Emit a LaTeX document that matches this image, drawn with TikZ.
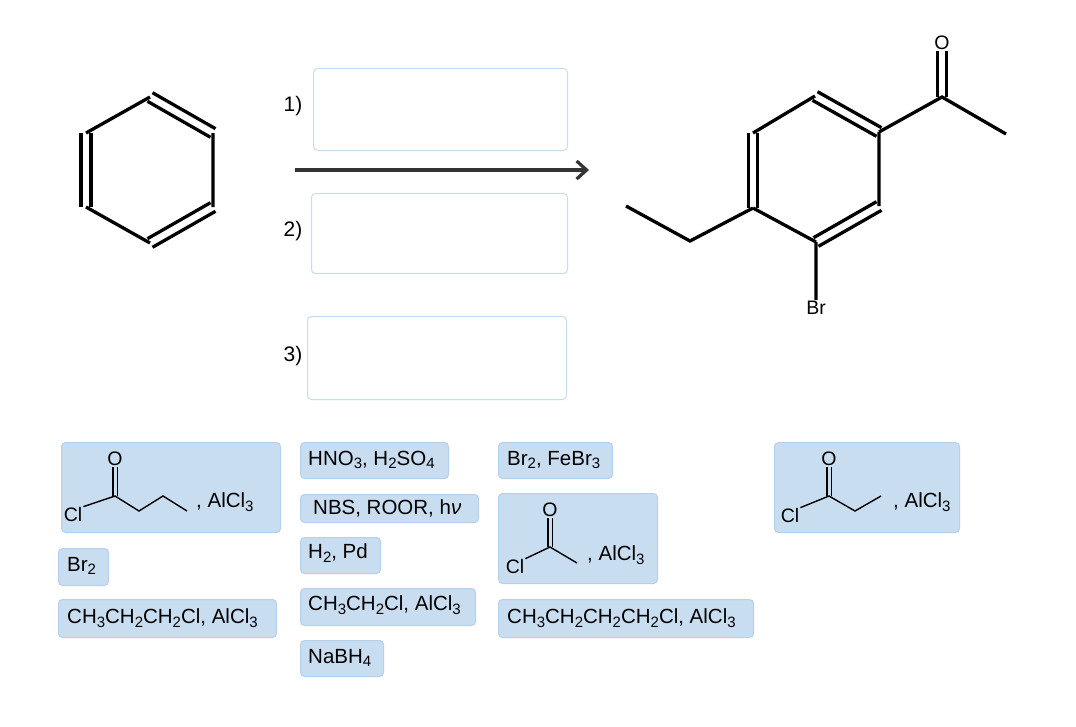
\documentclass[tikz,border=0pt]{standalone}
\usepackage{fontspec}
\setmainfont{Liberation Sans}
\usetikzlibrary{arrows.meta}
\newcommand\sbs[1]{\raisebox{-0.35ex}{\fontsize{15}{16}\selectfont #1}}
\begin{document}
\begin{tikzpicture}[x=1pt,y=-1pt,
  bond/.style={line width=3.3pt,line cap=butt},
  sbond/.style={line width=1.4pt},
  tile/.style={draw=tileb,fill=tilef,rounded corners=4pt,line width=1pt,anchor=north west,inner sep=0pt},
  ansbox/.style={draw=ansb,rounded corners=4pt,line width=1pt,anchor=north west,inner sep=0pt},
  ttext/.style={font=\fontsize{20.5}{24}\selectfont,anchor=west,inner sep=0pt},
  atom/.style={font=\fontsize{19.5}{21}\selectfont,inner sep=1pt},
  lab/.style={font=\fontsize{21}{24}\selectfont,inner sep=0pt}]
\definecolor{tilef}{HTML}{C9DDF1}
\definecolor{tileb}{HTML}{B5D0EA}
\definecolor{ansb}{HTML}{C7DCF0}
\definecolor{arr}{HTML}{333333}
\useasboundingbox (0,0) rectangle (1076,726);
% benzene
\coordinate (b1) at (150,97);\coordinate (b2) at (213,133);\coordinate (b3) at (213,207);
\coordinate (b4) at (150,243);\coordinate (b5) at (86,207);\coordinate (b6) at (86,133);
\draw[bond] (b2)--(b3) (b4)--(b5) (b6)--(b1);
\draw[bond] ([shift={(2.5,-4.3)}]b1)--([shift={(2.5,-4.3)}]b2) ([shift={(-2.5,4.3)}]b1)--([shift={(-2.5,4.3)}]b2);
\draw[bond] ([shift={(2.5,4.3)}]b3)--([shift={(2.5,4.3)}]b4) ([shift={(-2.5,-4.3)}]b3)--([shift={(-2.5,-4.3)}]b4);
\draw[bond] ([xshift=-5]b5)--([xshift=-5]b6) ([xshift=5]b5)--([xshift=5]b6);
% arrow and answer boxes
\coordinate (as) at (295,170);\coordinate (ae) at (589,170);
\draw[arr,line width=3.2pt,-{Straight Barb[length=10pt,width=18pt]}] (as)--(ae);
\node[ansbox,minimum width=254,minimum height=82] (box1) at (313,68) {};
\node[ansbox,minimum width=256,minimum height=80] (box2) at (311,193) {};
\node[ansbox,minimum width=259,minimum height=83] (box3) at (307,316) {};
\node[lab] (l1) at (293,106) {1)};
\node[lab] (l2) at (293,231) {2)};
\node[lab] (l3) at (293,356) {3)};
% product
\coordinate (c1) at (879,132);\coordinate (c2) at (815,96);\coordinate (c3) at (753,133);
\coordinate (c4) at (753,208);\coordinate (c5) at (816,242);\coordinate (c6) at (879,206);
\coordinate (ca) at (942,97);\coordinate (me) at (1006,134);
\coordinate (e1) at (690,241);\coordinate (e2) at (626,206);
\node[atom,font=\fontsize{19.5}{21}\selectfont] (O) at (942,43) {O};
\node[atom,font=\fontsize{19.5}{21}\selectfont] (Br) at (816,308) {Br};
\draw[bond] (c2)--(c3) (c4)--(c5) (c6)--(c1) (c1)--(ca)--(me) (c4)--(e1)--(e2) (c5)--(Br.north);
\draw[bond] ([xshift=-4.5]ca)--([xshift=-4.5]O.south) ([xshift=4.5]ca)--([xshift=4.5]O.south);
\draw[bond] ([shift={(2.5,-4.3)}]c2)--([shift={(2.5,-4.3)}]c1) ([shift={(-2.5,4.3)}]c2)--([shift={(-2.5,4.3)}]c1);
\draw[bond] ([xshift=-4.5]c3)--([xshift=-4.5]c4) ([xshift=4.5]c3)--([xshift=4.5]c4);
\draw[bond] ([shift={(-2.5,-4.3)}]c5)--([shift={(-2.5,-4.3)}]c6) ([shift={(2.5,4.3)}]c5)--([shift={(2.5,4.3)}]c6);
% tiles
\node[tile,minimum width=219,minimum height=90] (tA) at (61,442) {};
\node[atom] (oA) at (115,459) {O};
\node[atom] (clA) at (73,515) {Cl};
\coordinate (cA) at (115,496);\coordinate (cA2) at (139,511);\coordinate (cA3) at (163,496);\coordinate (cA4) at (187,511);
\draw[sbond] (clA.north east)--(cA)--(cA2)--(cA3)--(cA4);
\draw[sbond] ([xshift=-2.2]cA)--([xshift=-2.2]oA.south) ([xshift=2.2]cA)--([xshift=2.2]oA.south);
\node[ttext] (tAt) at (196,502) {, AlCl\sbs{3}};
\node[tile,minimum width=50,minimum height=37] (tB) at (58,548) {};
\node[ttext] at (67,566) {Br\sbs{2}};
\node[tile,minimum width=218,minimum height=38] (tC) at (58,599) {};
\node[ttext] at (67,618) {CH\sbs{3}CH\sbs{2}CH\sbs{2}Cl, AlCl\sbs{3}};
\node[tile,minimum width=148,minimum height=36] (tD) at (300,442) {};
\node[ttext] at (308,460) {HNO\sbs{3}, H\sbs{2}SO\sbs{4}};
\node[tile,minimum width=178,minimum height=28] (tE) at (300,494) {};
\node[ttext] at (313,508) {NBS, ROOR, h\textit{ν}};
\node[tile,minimum width=80,minimum height=36] (tF) at (300,537) {};
\node[ttext] at (308,553) {H\sbs{2}, Pd};
\node[tile,minimum width=175,minimum height=37] (tG) at (300,588) {};
\node[ttext] at (308,605) {CH\sbs{3}CH\sbs{2}Cl, AlCl\sbs{3}};
\node[tile,minimum width=83,minimum height=36] (tH) at (300,640) {};
\node[ttext] at (308,658) {NaBH\sbs{4}};
\node[tile,minimum width=114,minimum height=36] (tI) at (498,442) {};
\node[ttext] at (507,460) {Br\sbs{2}, FeBr\sbs{3}};
\node[tile,minimum width=159,minimum height=90] (tJ) at (498,493) {};
\node[atom] (oJb) at (550,510) {O};
\node[atom] (clJb) at (515,567) {Cl};
\coordinate (cJb) at (550,547);\coordinate (mJb) at (577,563);
\draw[sbond] (clJb.north east)--(cJb)--(mJb);
\draw[sbond] ([xshift=-2.2]cJb)--([xshift=-2.2]oJb.south) ([xshift=2.2]cJb)--([xshift=2.2]oJb.south);
\node[ttext] at (587,555) {, AlCl\sbs{3}};
\node[tile,minimum width=255,minimum height=38] (tK) at (498,599) {};
\node[ttext] at (507,618) {CH\sbs{3}CH\sbs{2}CH\sbs{2}CH\sbs{2}Cl, AlCl\sbs{3}};
\node[tile,minimum width=185,minimum height=90] (tL) at (774,442) {};
\node[atom] (oL) at (829,459) {O};
\node[atom] (clL) at (790,516) {Cl};
\coordinate (cL) at (829,496);\coordinate (cL2) at (855,511);\coordinate (cL3) at (881,496);
\draw[sbond] (clL.north east)--(cL)--(cL2)--(cL3);
\draw[sbond] ([xshift=-2.2]cL)--([xshift=-2.2]oL.south) ([xshift=2.2]cL)--([xshift=2.2]oL.south);
\node[ttext] at (893,502) {, AlCl\sbs{3}};
\end{tikzpicture}
\end{document}
